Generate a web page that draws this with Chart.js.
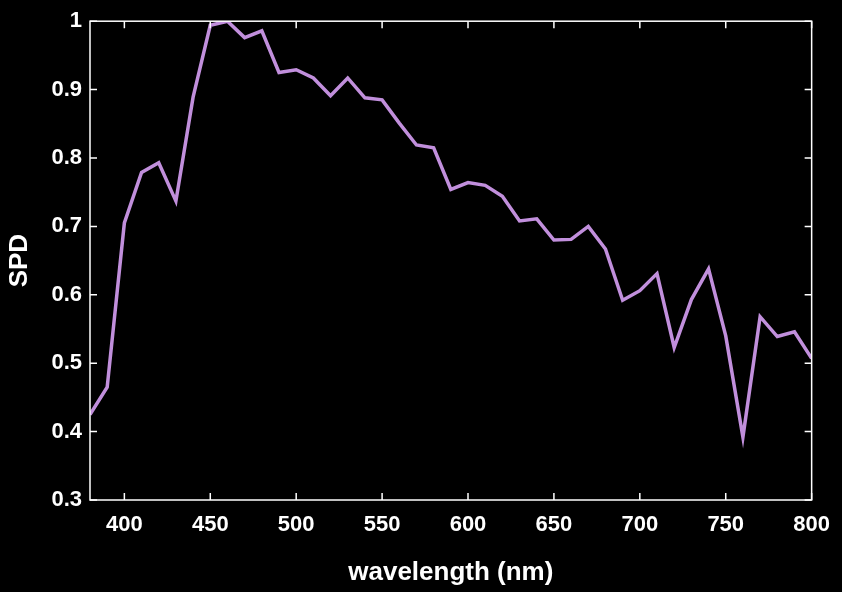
<!DOCTYPE html>
<html><head><meta charset="utf-8">
<script src="https://cdn.jsdelivr.net/npm/chart.js@4/dist/chart.umd.min.js"></script>
<style>html,body{margin:0;padding:0;background:#000;}#w{width:842px;height:592px;}</style>
</head><body><div id="w"><canvas id="c"></canvas></div>
<script>
const wavelengths = [380,390,400,410,420,430,440,450,460,470,480,490,500,510,520,530,540,550,560,570,580,590,600,610,620,630,640,650,660,670,680,690,700,710,720,730,740,750,760,770,780,790,800];
const spd = [0.425,0.465,0.705,0.779,0.793,0.737,0.889,0.994,1.0,0.976,0.986,0.925,0.929,0.917,0.891,0.917,0.888,0.885,0.851,0.819,0.815,0.754,0.764,0.760,0.744,0.708,0.711,0.680,0.681,0.700,0.667,0.592,0.606,0.631,0.523,0.593,0.638,0.540,0.392,0.568,0.539,0.546,0.507];
const xTicks = [400,450,500,550,600,650,700,750,800];
const yTicks = [0.3,0.4,0.5,0.6,0.7,0.8,0.9,1.0];
const boxPlugin = {id:'box', afterDraw(ch){
  const a=ch.chartArea, g=ch.ctx; g.save(); g.strokeStyle='#fff'; g.lineWidth=1.5;
  g.strokeRect(a.left,a.top,a.right-a.left,a.bottom-a.top);
  const xs=ch.scales.x, ys=ch.scales.y; g.beginPath();
  xTicks.forEach(v=>{const p=xs.getPixelForValue(v); g.moveTo(p,a.bottom); g.lineTo(p,a.bottom-7); g.moveTo(p,a.top); g.lineTo(p,a.top+7);});
  yTicks.forEach(v=>{const p=ys.getPixelForValue(v); g.moveTo(a.left,p); g.lineTo(a.left+7,p); g.moveTo(a.right,p); g.lineTo(a.right-7,p);});
  g.stroke(); g.restore();}};
new Chart(document.getElementById('c'),{type:'line',
 data:{datasets:[{data:wavelengths.map((x,i)=>({x,y:spd[i]})),borderColor:'#c18fdc',borderWidth:3.5,pointRadius:0,tension:0}]},
 options:{responsive:true,maintainAspectRatio:false,animation:false,
  layout:{padding:{top:2,right:24,left:0,bottom:0}},
  plugins:{legend:{display:false},tooltip:{enabled:false}},
  scales:{
   x:{type:'linear',min:380,max:800,
     afterBuildTicks(s){s.ticks=xTicks.map(v=>({value:v}));},
     afterFit(s){s.height=92;},
     grid:{display:false,drawTicks:false},border:{display:false},
     ticks:{color:'#fff',font:{family:'Liberation Sans',size:22,weight:'bold'},padding:12,maxRotation:0},
     title:{display:true,text:'wavelength (nm)',color:'#fff',font:{family:'Liberation Sans',size:26,weight:'bold'},padding:{top:2}}},
   y:{min:0.3,max:1,
     afterBuildTicks(s){s.ticks=yTicks.map(v=>({value:v}));},
     afterFit(s){s.width=90;},
     grid:{display:false,drawTicks:false},border:{display:false},
     ticks:{color:'#fff',font:{family:'Liberation Sans',size:22,weight:'bold'},padding:8,callback:v=>v===1?'1':v.toFixed(1)},
     title:{display:true,text:'SPD',color:'#fff',font:{family:'Liberation Sans',size:26,weight:'bold'},padding:{bottom:2}}}
  }},
 plugins:[boxPlugin]});
</script></body></html>
